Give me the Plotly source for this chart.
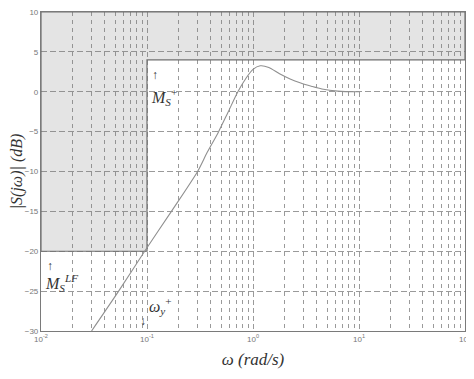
import numpy as np
import plotly.graph_objects as go

# |S(jw)| curve
omega = [0.030, 0.054, 0.095, 0.17, 0.30, 0.37, 0.47, 0.58, 0.72, 0.85,
         1.0, 1.17, 1.41, 1.78, 2.24, 2.82, 3.55, 4.47, 6.3, 10.0]
mag_db = [-30.0, -25.0, -20.0, -15.0, -10.0, -7.6, -5.1, -2.6, 0.0, 1.6,
          2.8, 3.25, 3.05, 2.25, 1.6, 1.1, 0.7, 0.35, 0.08, 0.0]

# constraint bounds
MS_plus = 4.0      # dB, high-frequency bound
MS_LF = -20.0      # dB, low-frequency bound
omega_y = 0.1      # rad/s
x_min, x_max = 0.01, 100.0
y_min, y_max = -30.0, 10.0

y_ticks = [10, 5, 0, -5, -10, -15, -20, -25, -30]
x_ticks = [0.01, 0.1, 1, 10, 100]
x_tick_text = ["10<sup>-2</sup>", "10<sup>-1</sup>", "10<sup>0</sup>",
               "10<sup>1</sup>", "10<sup>2</sup>"]

grid_col = "#9a9a9a"
line_col = "#7a7a7a"

fig = go.Figure()

# forbidden region (shaded)
reg_x = [x_min, x_max, x_max, omega_y, omega_y, x_min, x_min]
reg_y = [y_max, y_max, MS_plus, MS_plus, MS_LF, MS_LF, y_max]
fig.add_trace(go.Scatter(x=reg_x, y=reg_y, mode="lines", fill="toself",
                         fillcolor="rgba(120,120,120,0.2)",
                         line=dict(color="#6f6f6f", width=1.2),
                         hoverinfo="skip", showlegend=False))

fig.add_trace(go.Scatter(x=omega, y=mag_db, mode="lines",
                         line=dict(color="#8f8f8f", width=1.1, shape="spline",
                                   smoothing=0.8),
                         showlegend=False))

serif = "Liberation Serif, DejaVu Serif, serif"

fig.update_layout(
    width=474, height=379,
    margin=dict(l=33, r=17, t=4, b=56),
    paper_bgcolor="white", plot_bgcolor="white",
    font=dict(family="Liberation Sans, Arial, sans-serif", size=8, color="#777"),
    xaxis=dict(type="log", range=[np.log10(x_min), np.log10(x_max)],
               tickvals=x_ticks, ticktext=x_tick_text, automargin=False,
               ticklabeloverflow="allow",
               showgrid=True, gridcolor=grid_col, griddash="5px,3px", gridwidth=1,
               minor=dict(dtick="D1", showgrid=True, gridcolor=grid_col,
                          griddash="4px,4px", gridwidth=1, ticks=""),
               showline=True, linecolor=line_col, linewidth=1.2, mirror=True,
               ticks="", zeroline=False,
               title=dict(text="<i>ω (rad/s)</i>",
                          font=dict(family=serif, size=17, color="#333"),
                          standoff=10)),
    yaxis=dict(range=[y_min, y_max], tickvals=y_ticks, automargin=False,
               ticklabeloverflow="allow",
               showgrid=True, gridcolor=grid_col, griddash="6px,3px", gridwidth=1,
               showline=True, linecolor=line_col, linewidth=1.2, mirror=True,
               ticks="", zeroline=False,
               title=dict(text="<i>|S(jω)| (dB)</i>",
                          font=dict(family=serif, size=16, color="#333"),
                          standoff=4)),
)

ann_font = dict(family=serif, size=16, color="#333")
arrow_font = dict(family=serif, size=12, color="#333")

# M_S^+ label
fig.add_annotation(x=np.log10(0.106), y=MS_plus - 1.9, xref="x", yref="y",
                   text="↑", showarrow=False, font=arrow_font, xanchor="left")
fig.add_annotation(x=np.log10(0.105), y=MS_plus - 4.6, xref="x", yref="y",
                   text="<i>M</i><sub><i>S</i></sub><sup>+</sup>", showarrow=False,
                   font=ann_font, xanchor="left")
# M_S^LF label
fig.add_annotation(x=np.log10(0.0108), y=MS_LF - 1.9, xref="x", yref="y",
                   text="↑", showarrow=False, font=arrow_font, xanchor="left")
fig.add_annotation(x=np.log10(0.0104), y=MS_LF - 4.0, xref="x", yref="y",
                   text="<i>M</i><sub><i>S</i></sub><sup><i>LF</i></sup>",
                   showarrow=False, font=ann_font, xanchor="left")
# omega_y^+ label
fig.add_annotation(x=np.log10(0.101), y=-26.9, xref="x", yref="y",
                   text="<i>ω</i><sub><i>y</i></sub><sup>+</sup>", showarrow=False,
                   font=ann_font, xanchor="left")
fig.add_annotation(x=np.log10(0.092), y=-28.7, xref="x", yref="y",
                   text="↓", showarrow=False, font=arrow_font, xanchor="center")

fig.write_html("out.html")
